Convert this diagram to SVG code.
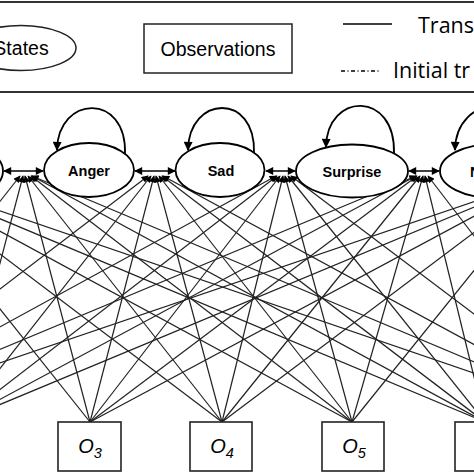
<svg xmlns="http://www.w3.org/2000/svg" width="474" height="474" viewBox="0 0 474 474">
<style>
.frame{stroke:#333;stroke-width:2;fill:none}
.st{fill:#fff;stroke:#000;stroke-width:1.8}
.lg{fill:#fff;stroke:#222;stroke-width:1.5}
.ob{fill:#fff;stroke:#222;stroke-width:1.6}
.em{stroke:#222;stroke-width:1.2;fill:none;marker-start:url(#sm)}
.loop{stroke:#000;stroke-width:1.8;fill:none;marker-end:url(#ah)}
.da{stroke:#000;stroke-width:1.5;fill:none;marker-start:url(#ah2);marker-end:url(#ah2)}
.sl{font-family:"Liberation Sans",Arial,sans-serif;font-weight:bold;font-size:14.5px;fill:#000;text-anchor:middle}
.lt{font-family:"Liberation Sans",Arial,sans-serif;font-size:19.5px;fill:#000;text-anchor:middle}
.ot{font-family:"Liberation Sans",Arial,sans-serif;font-style:italic;font-size:20px;fill:#000;text-anchor:middle}
.cal{font-family:"Open Sans","Noto Sans",sans-serif;font-size:21.5px;fill:#000}
</style>
<defs>
<marker id="ah" viewBox="0 0 10 10" refX="9" refY="5" markerWidth="10" markerHeight="9" orient="auto" markerUnits="userSpaceOnUse"><path d="M0,0 L10,5 L0,10 z" fill="#000"/></marker>
<marker id="ah2" viewBox="0 0 10 10" refX="9" refY="5" markerWidth="9" markerHeight="8" orient="auto-start-reverse" markerUnits="userSpaceOnUse"><path d="M0,0 L10,5 L0,10 z" fill="#000"/></marker>
<marker id="sm" viewBox="0 0 10 10" refX="9" refY="5" markerWidth="9" markerHeight="7" orient="auto-start-reverse" markerUnits="userSpaceOnUse"><path d="M0,0 L10,5 L0,10 z" fill="#000"/></marker>
</defs>
<rect width="474" height="474" fill="#fff"/>
<g id="legend">
<line class="frame" x1="0" y1="2" x2="474" y2="2"/>
<line class="frame" x1="0" y1="92" x2="474" y2="92"/>
<ellipse class="lg" cx="21" cy="48" rx="55" ry="22.5"/>
<text class="lt" x="21" y="55">States</text>
<rect class="lg" x="144" y="24" width="148" height="49"/>
<text class="lt" x="218" y="56">Observations</text>
<line x1="343" y1="24" x2="392" y2="24" stroke="#000" stroke-width="1.5"/>
<text class="cal" x="418" y="33">Trans</text>
<line x1="341" y1="71" x2="381" y2="71" stroke="#000" stroke-width="1.3" stroke-dasharray="4,2.5,1,2.5"/>
<text class="cal" x="393" y="78">Initial tr</text>
</g>
<g id="connectors">
<line class="em" x1="-111" y1="176" x2="-174" y2="422"/>
<line class="em" x1="-109" y1="176" x2="-42" y2="422"/>
<line class="em" x1="-106" y1="176" x2="90" y2="422"/>
<line class="em" x1="-103" y1="176" x2="222" y2="422"/>
<line class="em" x1="-102" y1="176" x2="352" y2="422"/>
<line class="em" x1="-102" y1="176" x2="485" y2="422"/>
<line class="em" x1="-102" y1="176" x2="617" y2="422"/>
<line class="em" x1="20" y1="176" x2="-174" y2="422"/>
<line class="em" x1="23" y1="176" x2="-42" y2="422"/>
<line class="em" x1="25" y1="176" x2="90" y2="422"/>
<line class="em" x1="28" y1="176" x2="222" y2="422"/>
<line class="em" x1="31" y1="176" x2="352" y2="422"/>
<line class="em" x1="32" y1="176" x2="485" y2="422"/>
<line class="em" x1="32" y1="176" x2="617" y2="422"/>
<line class="em" x1="148" y1="176" x2="-174" y2="422"/>
<line class="em" x1="151" y1="176" x2="-42" y2="422"/>
<line class="em" x1="154" y1="176" x2="90" y2="422"/>
<line class="em" x1="156" y1="176" x2="222" y2="422"/>
<line class="em" x1="159" y1="176" x2="352" y2="422"/>
<line class="em" x1="162" y1="176" x2="485" y2="422"/>
<line class="em" x1="163" y1="176" x2="617" y2="422"/>
<line class="em" x1="276" y1="176" x2="-174" y2="422"/>
<line class="em" x1="277" y1="176" x2="-42" y2="422"/>
<line class="em" x1="280" y1="176" x2="90" y2="422"/>
<line class="em" x1="283" y1="176" x2="222" y2="422"/>
<line class="em" x1="285" y1="176" x2="352" y2="422"/>
<line class="em" x1="288" y1="176" x2="485" y2="422"/>
<line class="em" x1="291" y1="176" x2="617" y2="422"/>
<line class="em" x1="416" y1="176" x2="-174" y2="422"/>
<line class="em" x1="416" y1="176" x2="-42" y2="422"/>
<line class="em" x1="417" y1="176" x2="90" y2="422"/>
<line class="em" x1="420" y1="176" x2="222" y2="422"/>
<line class="em" x1="423" y1="176" x2="352" y2="422"/>
<line class="em" x1="425" y1="176" x2="485" y2="422"/>
<line class="em" x1="428" y1="176" x2="617" y2="422"/>
<line class="em" x1="549" y1="176" x2="-174" y2="422"/>
<line class="em" x1="549" y1="176" x2="-42" y2="422"/>
<line class="em" x1="549" y1="176" x2="90" y2="422"/>
<line class="em" x1="549" y1="176" x2="222" y2="422"/>
<line class="em" x1="550" y1="176" x2="352" y2="422"/>
<line class="em" x1="556" y1="176" x2="485" y2="422"/>
<line class="em" x1="558" y1="176" x2="617" y2="422"/>
<path class="loop" d="M125,154 C127,92 58,95 57,150"/>
<path class="loop" d="M254,153 C256,92 189,95 188,150"/>
<path class="loop" d="M394,154 C396,90 327,92 326,147"/>
<path class="loop" d="M530,151 C532,90 456,93 455,150"/>
<line class="da" x1="4" y1="171" x2="43" y2="171"/>
<line class="da" x1="135" y1="171" x2="175" y2="171"/>
<line class="da" x1="266" y1="171" x2="295" y2="171"/>
<line class="da" x1="409" y1="171" x2="439" y2="171"/>
</g>
<g id="state-left"><ellipse class="st" cx="-42" cy="171" rx="45" ry="27"/></g>
<g id="state-anger"><ellipse class="st" cx="89" cy="170" rx="45" ry="27"/><text class="sl" x="89" y="176">Anger</text></g>
<g id="state-sad"><ellipse class="st" cx="220" cy="170" rx="44.5" ry="27"/><text class="sl" x="221" y="176">Sad</text></g>
<g id="state-surprise"><ellipse class="st" cx="352" cy="171" rx="56" ry="26.5"/><text class="sl" x="352" y="177">Surprise</text></g>
<g id="state-right"><ellipse class="st" cx="494" cy="171" rx="54" ry="27"/><text class="sl" x="495" y="177">Neutral</text></g>
<g id="obs-o3"><rect class="ob" x="58" y="422" width="63" height="49"/><text class="ot" x="90" y="453">O<tspan font-size="14.5" dy="5">3</tspan></text></g>
<g id="obs-o4"><rect class="ob" x="190" y="422" width="62" height="49"/><text class="ot" x="222" y="453">O<tspan font-size="14.5" dy="5">4</tspan></text></g>
<g id="obs-o5"><rect class="ob" x="322" y="422" width="62" height="49"/><text class="ot" x="354" y="453">O<tspan font-size="14.5" dy="5">5</tspan></text></g>
<g id="obs-o6"><rect class="ob" x="455" y="422" width="62" height="49"/></g>
</svg>
